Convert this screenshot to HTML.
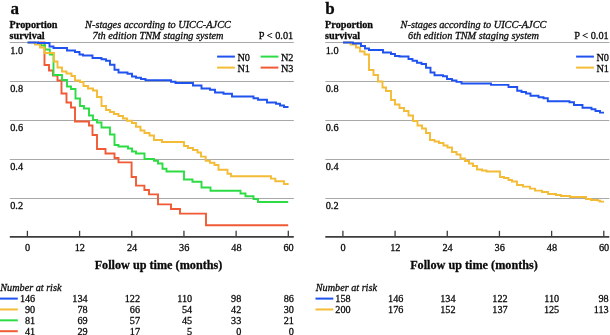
<!DOCTYPE html>
<html><head><meta charset="utf-8"><style>
html,body{margin:0;padding:0;background:#fff;width:610px;height:335px;overflow:hidden}
svg{display:block;will-change:transform}
text{font-family:"Liberation Serif",serif;fill:#0a0a0a;stroke:#0a0a0a;stroke-width:0.28px}
</style></head><body>
<svg width="610" height="335" viewBox="0 0 610 335">
<rect width="610" height="335" fill="#fff"/>
<text x="10.6" y="14.2" font-size="17" font-weight="bold">a</text>
<text x="9.6" y="28.4" font-size="10.2" font-weight="bold">Proportion</text>
<text x="9.6" y="38.6" font-size="10.2" font-weight="bold">survival</text>
<text x="158" y="28.2" font-size="10.3" font-style="italic" text-anchor="middle">N-stages according to UICC-AJCC</text>
<text x="158" y="38.8" font-size="10.3" font-style="italic" text-anchor="middle">7th edition TNM staging system</text>
<text x="293.2" y="39" font-size="10.3" text-anchor="end">P &lt; 0.01</text>
<line x1="9.8" y1="42.5" x2="293.8" y2="42.5" stroke="#a8a8a8" stroke-width="1.1"/>
<line x1="9.8" y1="81.5" x2="293.8" y2="81.5" stroke="#a8a8a8" stroke-width="1.1"/>
<line x1="9.8" y1="120.5" x2="293.8" y2="120.5" stroke="#a8a8a8" stroke-width="1.1"/>
<line x1="9.8" y1="159.5" x2="293.8" y2="159.5" stroke="#a8a8a8" stroke-width="1.1"/>
<line x1="9.8" y1="198.5" x2="293.8" y2="198.5" stroke="#a8a8a8" stroke-width="1.1"/>
<text x="10.2" y="53.5" font-size="10.3">1.0</text>
<text x="10.2" y="92.4" font-size="10.3">0.8</text>
<text x="10.2" y="131.4" font-size="10.3">0.6</text>
<text x="10.2" y="170.4" font-size="10.3">0.4</text>
<text x="10.2" y="209.0" font-size="10.3">0.2</text>
<line x1="9.8" y1="236.9" x2="293.8" y2="236.9" stroke="#3c3c3c" stroke-width="1.9"/>
<line x1="27.4" y1="230.8" x2="27.4" y2="236.9" stroke="#3c3c3c" stroke-width="1.3"/>
<text x="27.7" y="250.8" font-size="10.3" text-anchor="middle">0</text>
<line x1="79.58" y1="230.8" x2="79.58" y2="236.9" stroke="#3c3c3c" stroke-width="1.3"/>
<text x="79.88" y="250.8" font-size="10.3" text-anchor="middle">12</text>
<line x1="131.76" y1="230.8" x2="131.76" y2="236.9" stroke="#3c3c3c" stroke-width="1.3"/>
<text x="132.06" y="250.8" font-size="10.3" text-anchor="middle">24</text>
<line x1="183.94" y1="230.8" x2="183.94" y2="236.9" stroke="#3c3c3c" stroke-width="1.3"/>
<text x="184.24" y="250.8" font-size="10.3" text-anchor="middle">36</text>
<line x1="236.12" y1="230.8" x2="236.12" y2="236.9" stroke="#3c3c3c" stroke-width="1.3"/>
<text x="236.42000000000002" y="250.8" font-size="10.3" text-anchor="middle">48</text>
<line x1="288.29999999999995" y1="230.8" x2="288.29999999999995" y2="236.9" stroke="#3c3c3c" stroke-width="1.3"/>
<text x="288.59999999999997" y="250.8" font-size="10.3" text-anchor="middle">60</text>
<text x="158.5" y="269.2" font-size="12.2" font-weight="bold" text-anchor="middle">Follow up time (months)</text>
<path d="M38,42.5 H44.5 V65 H49 V70.5 H53 V75.5 H57.5 V80.5 H61.5 V93.5 H66.5 V102.5 H71 V107.5 H75 V121.5 H89 V125.5 H92.5 V135 H97 V149 H105.5 V153.5 H114.5 V158 H118.5 V162.4 H131.6 V177 H136 V185.6 H144.4 V190 H149 V194.4 H158 V204.4 H171 V209 H180 V213.6 H206 V225.2 H288.2" fill="none" stroke="#f05a35" stroke-width="1.9" stroke-linejoin="miter" stroke-linecap="butt"/>
<path d="M41,42.5 V45.5 H45 V49.5 H49.8 V54.5 H53.5 V75 H62 V80 H67 V86.5 H71 V89 H75.5 V98.5 H80 V106 H84 V108.5 H89 V115.5 H93 V120 H97 V122.5 H101.5 V127.5 H110 V134.5 H114.5 V145 H118.5 V146.5 H128 V148.5 H132 V151.5 H136 V153.5 H144.5 V159 H154 V160.8 H158 V163.5 H162.5 V168.8 H166.5 V171.5 H184 V179.5 H192.5 V181.8 H201.5 V187.5 H210.5 V190.8 H240.5 V193.5 H245.5 V196.2 H253.5 V199 H258 V202 H288.2" fill="none" stroke="#2ddc45" stroke-width="1.9" stroke-linejoin="miter" stroke-linecap="butt"/>
<path d="M27.5,42.5 H35 V44.5 H40 V47.5 H44.5 V53 H54 V61.5 H57.5 V67.5 H62 V71.5 H66.5 V73.5 H71.5 V76 H75 V80.5 H80 V82 H83.5 V86 H88 V88.5 H93 V90.5 H97 V97 H101.5 V106 H106 V110 H110 V112 H114 V114 H118.5 V116 H123 V118.5 H127 V120.8 H132 V123 H136 V126.8 H140.5 V130.5 H144.5 V133 H149.5 V135.5 H154 V140 H162 V142 H184 V146 H188 V148 H193 V150 H197.5 V152.5 H201 V156.6 H205.7 V160.7 H209.9 V162.8 H214.5 V165 H218.5 V169.7 H227.5 V173.8 H231 V176.3 H271 V178.6 H275.3 V181.3 H284 V184 H288.7" fill="none" stroke="#f4bc36" stroke-width="1.9" stroke-linejoin="miter" stroke-linecap="butt"/>
<path d="M27.5,42.5 H38 V43 H49.5 V46.5 H53.5 V48 H67 V50.5 H75 V52 H79.5 V54.5 H83 V55.5 H92.5 V58 H101.5 V59.2 H106 V60.8 H110 V64.8 H114.5 V69.8 H118.5 V72.5 H127.5 V73.8 H132 V76.5 H136 V77.8 H141 V79 H145.5 V80.2 H171 V81.8 H175.5 V83 H193 V85.5 H201.5 V88.5 H210 V89.7 H215 V92.5 H223.5 V93.8 H232 V96.5 H253.5 V98.3 H258 V99.8 H267 V102.5 H276 V103.8 H280 V105.5 H284 V107 H288.5" fill="none" stroke="#1f52ee" stroke-width="1.9" stroke-linejoin="miter" stroke-linecap="butt"/>
<line x1="217.1" y1="56.6" x2="234.9" y2="56.6" stroke="#1f52ee" stroke-width="2"/>
<text x="237.4" y="60.6" font-size="10.3">N0</text>
<line x1="217.1" y1="67.6" x2="234.9" y2="67.6" stroke="#f4bc36" stroke-width="2"/>
<text x="237.4" y="71.6" font-size="10.3">N1</text>
<line x1="260.6" y1="56.6" x2="278.40000000000003" y2="56.6" stroke="#2ddc45" stroke-width="2"/>
<text x="280.90000000000003" y="60.6" font-size="10.3">N2</text>
<line x1="260.6" y1="67.6" x2="278.40000000000003" y2="67.6" stroke="#f05a35" stroke-width="2"/>
<text x="280.90000000000003" y="71.6" font-size="10.3">N3</text>
<text x="0.3" y="291.2" font-size="10.2" font-style="italic">Number at risk</text>
<line x1="0" y1="298.59999999999997" x2="17.8" y2="298.59999999999997" stroke="#1f52ee" stroke-width="2"/>
<text x="35.2" y="302.2" font-size="10.2" text-anchor="end">146</text>
<text x="87.6" y="302.2" font-size="10.2" text-anchor="end">134</text>
<text x="140" y="302.2" font-size="10.2" text-anchor="end">122</text>
<text x="192.2" y="302.2" font-size="10.2" text-anchor="end">110</text>
<text x="241.3" y="302.2" font-size="10.2" text-anchor="end">98</text>
<text x="293.9" y="302.2" font-size="10.2" text-anchor="end">86</text>
<line x1="0" y1="309.46999999999997" x2="17.8" y2="309.46999999999997" stroke="#f4bc36" stroke-width="2"/>
<text x="35.2" y="313.07" font-size="10.2" text-anchor="end">90</text>
<text x="87.6" y="313.07" font-size="10.2" text-anchor="end">78</text>
<text x="140" y="313.07" font-size="10.2" text-anchor="end">66</text>
<text x="192.2" y="313.07" font-size="10.2" text-anchor="end">54</text>
<text x="241.3" y="313.07" font-size="10.2" text-anchor="end">42</text>
<text x="293.9" y="313.07" font-size="10.2" text-anchor="end">30</text>
<line x1="0" y1="320.34" x2="17.8" y2="320.34" stroke="#2ddc45" stroke-width="2"/>
<text x="35.2" y="323.94" font-size="10.2" text-anchor="end">81</text>
<text x="87.6" y="323.94" font-size="10.2" text-anchor="end">69</text>
<text x="140" y="323.94" font-size="10.2" text-anchor="end">57</text>
<text x="192.2" y="323.94" font-size="10.2" text-anchor="end">45</text>
<text x="241.3" y="323.94" font-size="10.2" text-anchor="end">33</text>
<text x="293.9" y="323.94" font-size="10.2" text-anchor="end">21</text>
<line x1="0" y1="331.21" x2="17.8" y2="331.21" stroke="#f05a35" stroke-width="2"/>
<text x="35.2" y="334.81" font-size="10.2" text-anchor="end">41</text>
<text x="87.6" y="334.81" font-size="10.2" text-anchor="end">29</text>
<text x="140" y="334.81" font-size="10.2" text-anchor="end">17</text>
<text x="192.2" y="334.81" font-size="10.2" text-anchor="end">5</text>
<text x="241.3" y="334.81" font-size="10.2" text-anchor="end">0</text>
<text x="293.9" y="334.81" font-size="10.2" text-anchor="end">0</text>
<text x="325.3" y="14.2" font-size="17" font-weight="bold">b</text>
<text x="325.1" y="28.4" font-size="10.2" font-weight="bold">Proportion</text>
<text x="325.1" y="38.6" font-size="10.2" font-weight="bold">survival</text>
<text x="473.5" y="28.2" font-size="10.3" font-style="italic" text-anchor="middle">N-stages according to UICC-AJCC</text>
<text x="473.5" y="38.8" font-size="10.3" font-style="italic" text-anchor="middle">6th edition TNM staging system</text>
<text x="608.7" y="39" font-size="10.3" text-anchor="end">P &lt; 0.01</text>
<line x1="325.3" y1="42.5" x2="609.3" y2="42.5" stroke="#a8a8a8" stroke-width="1.1"/>
<line x1="325.3" y1="81.5" x2="609.3" y2="81.5" stroke="#a8a8a8" stroke-width="1.1"/>
<line x1="325.3" y1="120.5" x2="609.3" y2="120.5" stroke="#a8a8a8" stroke-width="1.1"/>
<line x1="325.3" y1="159.5" x2="609.3" y2="159.5" stroke="#a8a8a8" stroke-width="1.1"/>
<line x1="325.3" y1="198.5" x2="609.3" y2="198.5" stroke="#a8a8a8" stroke-width="1.1"/>
<text x="325.7" y="53.5" font-size="10.3">1.0</text>
<text x="325.7" y="92.4" font-size="10.3">0.8</text>
<text x="325.7" y="131.4" font-size="10.3">0.6</text>
<text x="325.7" y="170.4" font-size="10.3">0.4</text>
<text x="325.7" y="209.0" font-size="10.3">0.2</text>
<line x1="325.3" y1="236.9" x2="609.3" y2="236.9" stroke="#3c3c3c" stroke-width="1.9"/>
<line x1="342.9" y1="230.8" x2="342.9" y2="236.9" stroke="#3c3c3c" stroke-width="1.3"/>
<text x="343.2" y="250.8" font-size="10.3" text-anchor="middle">0</text>
<line x1="395.08" y1="230.8" x2="395.08" y2="236.9" stroke="#3c3c3c" stroke-width="1.3"/>
<text x="395.38" y="250.8" font-size="10.3" text-anchor="middle">12</text>
<line x1="447.26" y1="230.8" x2="447.26" y2="236.9" stroke="#3c3c3c" stroke-width="1.3"/>
<text x="447.56" y="250.8" font-size="10.3" text-anchor="middle">24</text>
<line x1="499.44" y1="230.8" x2="499.44" y2="236.9" stroke="#3c3c3c" stroke-width="1.3"/>
<text x="499.74" y="250.8" font-size="10.3" text-anchor="middle">36</text>
<line x1="551.62" y1="230.8" x2="551.62" y2="236.9" stroke="#3c3c3c" stroke-width="1.3"/>
<text x="551.92" y="250.8" font-size="10.3" text-anchor="middle">48</text>
<line x1="603.8" y1="230.8" x2="603.8" y2="236.9" stroke="#3c3c3c" stroke-width="1.3"/>
<text x="604.0999999999999" y="250.8" font-size="10.3" text-anchor="middle">60</text>
<text x="474.0" y="269.2" font-size="12.2" font-weight="bold" text-anchor="middle">Follow up time (months)</text>
<path d="M343,42.5 H350.5 V44.5 H356 V47.5 H360 V51.5 H364.5 V54.5 H369 V70 H373.5 V75 H378 V81.5 H382.5 V87.5 H386 V91 H391 V100 H395 V104.5 H399.5 V108 H404 V111 H408.5 V115.5 H413 V121 H417.5 V125.5 H422 V128.5 H426 V133 H430 V140 H434.5 V141.5 H439 V143 H443.5 V145.5 H447.5 V147.5 H452 V152 H456.5 V154.5 H460.5 V158.5 H465 V161 H469 V163.5 H473 V166 H477 V169.5 H482 V170.5 H486.5 V171.5 H500 V177 H504 V178 H508.5 V180 H512 V181.5 H517 V185 H523 V186.6 H530 V188.6 H535 V190.6 H542 V192 H548 V194 H556 V195 H561 V196 H570 V197 H586 V199 H591 V200 H598 V200.6 H600 V201.6 H604" fill="none" stroke="#f4bc36" stroke-width="1.9" stroke-linejoin="miter" stroke-linecap="butt"/>
<path d="M343,42.5 H353 V43.5 H361 V46 H365 V48.5 H369 V50 H383 V52.5 H391 V54 H395 V56 H399.5 V56.5 H408.5 V59 H412.5 V60.8 H417 V62.8 H421.5 V64 H426 V67.8 H430.5 V72.5 H434.5 V75.2 H443 V76.2 H447 V79 H452 V80.5 H456.5 V81.9 H461.5 V83.5 H491 V84.9 H508.5 V87 H517.2 V90.8 H521.5 V92 H526 V93.5 H530.5 V95.8 H538.5 V97.2 H543.5 V98.2 H547.8 V101.2 H569.5 V102.2 H574 V105 H582.5 V107.8 H591.5 V109.2 H595.5 V111 H600 V112.6 H604" fill="none" stroke="#1f52ee" stroke-width="1.9" stroke-linejoin="miter" stroke-linecap="butt"/>
<line x1="576.1" y1="56.6" x2="593.9000000000001" y2="56.6" stroke="#1f52ee" stroke-width="2"/>
<text x="596.4000000000001" y="60.6" font-size="10.3">N0</text>
<line x1="576.1" y1="67.6" x2="593.9000000000001" y2="67.6" stroke="#f4bc36" stroke-width="2"/>
<text x="596.4000000000001" y="71.6" font-size="10.3">N1</text>
<text x="315.8" y="291.2" font-size="10.2" font-style="italic">Number at risk</text>
<line x1="315.5" y1="298.59999999999997" x2="333.3" y2="298.59999999999997" stroke="#1f52ee" stroke-width="2"/>
<text x="350.6" y="302.2" font-size="10.2" text-anchor="end">158</text>
<text x="403.4" y="302.2" font-size="10.2" text-anchor="end">146</text>
<text x="455.5" y="302.2" font-size="10.2" text-anchor="end">134</text>
<text x="507.6" y="302.2" font-size="10.2" text-anchor="end">122</text>
<text x="559.2" y="302.2" font-size="10.2" text-anchor="end">110</text>
<text x="608.7" y="302.2" font-size="10.2" text-anchor="end">98</text>
<line x1="315.5" y1="309.46999999999997" x2="333.3" y2="309.46999999999997" stroke="#f4bc36" stroke-width="2"/>
<text x="350.6" y="313.07" font-size="10.2" text-anchor="end">200</text>
<text x="403.4" y="313.07" font-size="10.2" text-anchor="end">176</text>
<text x="455.5" y="313.07" font-size="10.2" text-anchor="end">152</text>
<text x="507.6" y="313.07" font-size="10.2" text-anchor="end">137</text>
<text x="559.2" y="313.07" font-size="10.2" text-anchor="end">125</text>
<text x="608.7" y="313.07" font-size="10.2" text-anchor="end">113</text>
</svg>
</body></html>
